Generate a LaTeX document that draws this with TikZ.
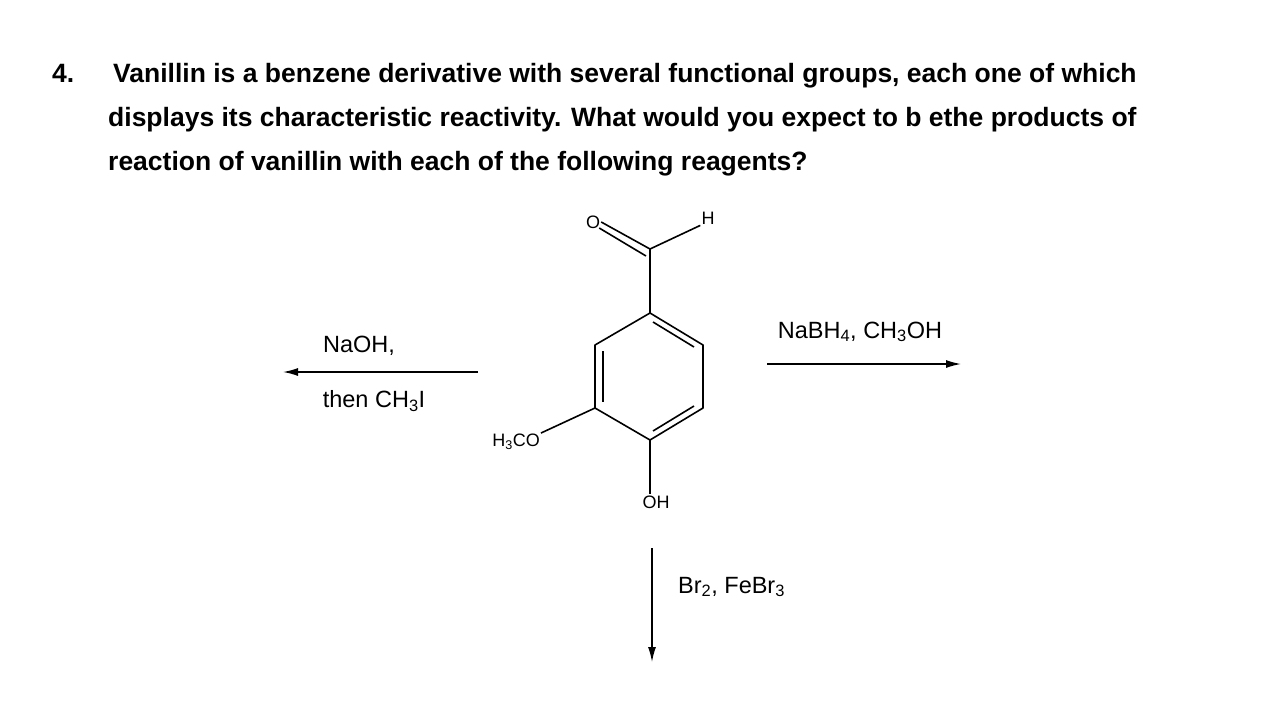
\documentclass[tikz,border=0pt]{standalone}
\usepackage{fontspec}
\setmainfont{Liberation Sans}
\usetikzlibrary{arrows.meta,calc}
\begin{document}
\begin{tikzpicture}[x=1pt,y=-1pt,
  bond/.style={line width=1.6pt},
  rxn/.style={line width=1.4pt,-{Latex[length=15pt,width=8pt]}},
  atom/.style={font=\fontsize{18}{20}\selectfont,inner sep=1pt},
  reag/.style={font=\fontsize{23.5}{26}\selectfont,inner sep=0pt},
  title/.style={font=\fontsize{26.5}{44}\selectfont\bfseries,inner sep=0pt,anchor=base west}]
\useasboundingbox (0,0) rectangle (1282,716);
\node[title] (n4) at (52,82) {4.};
\node[title] (q1) at (113,82) {Vanillin is a benzene derivative with several functional groups, each one of which};
\node[title] (q2) at (108,126) {displays its characteristic reactivity. What would you expect to b ethe products of};
\node[title] (q3) at (108,170) {reaction of vanillin with each of the following reagents?};
% ring
\coordinate (a) at (650,313);
\coordinate (b) at (703,345);
\coordinate (c) at (703,408);
\coordinate (d) at (650,440);
\coordinate (e) at (595,408);
\coordinate (f) at (595,345);
\draw[bond,line join=round] (a)--(b)--(c)--(d)--(e)--(f)--cycle;
\draw[bond] (653,322)--(694,347);
\draw[bond] (603,351)--(603,402);
\draw[bond] (694,406)--(653,431);
\coordinate (cho) at (650,249);
\draw[bond] (a)--(cho);
\node[atom] (O) at (593,222) {O};
\node[atom] (H) at (708,218) {H};
\draw[bond] (cho)--(H.south west);
\draw[bond] (cho)--(O.east);
\draw[bond] ($(cho)+(-4,7)$)--($(O.east)+(-2,6)$);
\node[atom] (ome) at (516,442) {H\textsubscript{3}CO};
\draw[bond] (e)--(ome.north east);
\node[atom] (oh) at (656,502) {OH};
\draw[bond] (d)--(oh.north -| d);
% reactions
\coordinate (l1) at (478,372); \coordinate (l2) at (283,372);
\draw[rxn] (l1)--(l2);
\node[reag] (r1) at (359,346) {NaOH,};
\node[reag] (r2) at (374,401) {then CH\textsubscript{3}I};
\coordinate (m1) at (767,364); \coordinate (m2) at (961,364);
\draw[rxn] (m1)--(m2);
\node[reag] (r3) at (860,332) {NaBH\textsubscript{4}, CH\textsubscript{3}OH};
\coordinate (d1) at (652,548); \coordinate (d2) at (652,662);
\draw[rxn] (d1)--(d2);
\node[reag,anchor=west] (r4) at (678,587) {Br\textsubscript{2}, FeBr\textsubscript{3}};
\end{tikzpicture}
\end{document}
